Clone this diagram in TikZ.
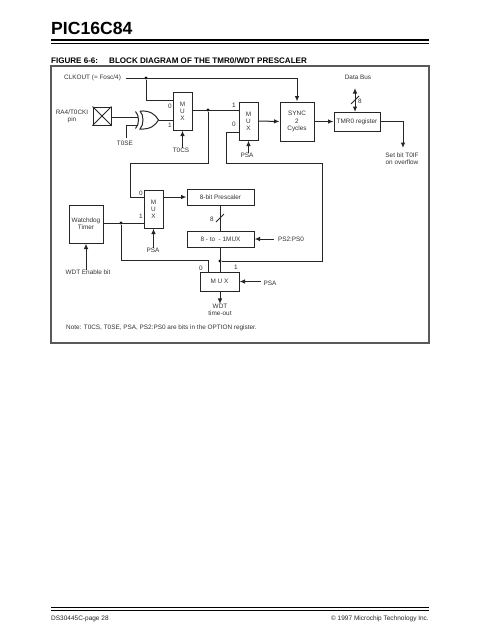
\documentclass[tikz,border=0pt]{standalone}
\usepackage{fontspec}
\setmainfont{Liberation Sans}
\usetikzlibrary{arrows.meta}
\begin{document}
\begin{tikzpicture}[
    x=1pt, y=-1pt,
    lbl/.style={inner sep=0pt, font=\fontsize{6.4}{7.2}\selectfont, align=center, text=black!80},
    blk/.style={rectangle, draw=black!85, line width=1pt, fill=white, inner sep=0pt, font=\fontsize{6.4}{7.2}\selectfont, align=center, text=black!80},
    wire/.style={draw=black!85, line width=1pt},
    arr/.style={wire, -{Latex[length=5.5pt,width=4.5pt]}},
    junc/.style={circle, fill=black, inner sep=0pt, minimum size=3.4pt},
    head/.style={inner sep=0pt, font=\fontsize{8.05}{9}\bfseries\selectfont},
    foot/.style={inner sep=0pt, font=\fontsize{6.5}{8}\selectfont, text=black!85},
]
\useasboundingbox (0,0) rectangle (495,640);
\fill[white] (0,0) rectangle (495,640);
% page header and footer
\node[inner sep=0pt, anchor=west, font=\fontsize{17.6}{18}\bfseries\selectfont] (title) at (51,28) {PIC16C84};
\coordinate (ruleL) at (51,40.3);
\coordinate (ruleR) at (429,40.3);
\draw[line width=1.7pt] (ruleL) -- (ruleR);
\draw[line width=0.6pt] ([yshift=-2.8pt]ruleL) -- ([yshift=-2.8pt]ruleR);
\coordinate (footL) at (51,607.3);
\coordinate (footR) at (429,607.3);
\draw[line width=0.6pt] (footL) -- (footR);
\draw[line width=1.7pt] ([yshift=-3.2pt]footL) -- ([yshift=-3.2pt]footR);
\node[head, anchor=west] (fignum) at (51,60.5) {FIGURE 6-6:};
\node[head, anchor=west] (figtitle) at (109,60.5) {BLOCK DIAGRAM OF THE TMR0/WDT PRESCALER};
\node[foot, anchor=west] (docnum) at (51,619) {DS30445C-page 28};
\node[foot, anchor=east] (copyr) at (429,619) {\textcopyright{} 1997 Microchip Technology Inc.};
\draw[black!65, line width=1.1pt] (51,66) rectangle (429,343);
% blocks
\node[blk, minimum width=19pt, minimum height=38pt] (muxa) at (182.5,111) {M\\U\\X};
\node[blk, minimum width=19pt, minimum height=38pt] (muxb) at (248.5,121) {M\\U\\X};
\node[blk, minimum width=19pt, minimum height=38pt] (muxc) at (153.5,209) {M\\U\\X};
\node[blk, minimum width=34pt, minimum height=39pt] (sync) at (297,121.5) {SYNC\\2\\Cycles};
\node[blk, minimum width=46pt, minimum height=19pt] (tmr) at (357,121.5) {TMR0 register};
\node[blk, minimum width=34pt, minimum height=38pt] (wdt) at (86,224) {Watchdog\\Timer};
\node[blk, minimum width=67pt, minimum height=16pt] (presc) at (220.5,197) {8-bit Prescaler};
\node[blk, minimum width=67pt, minimum height=16pt] (selmux) at (220.5,239) {8 - to \ - 1MUX};
\node[blk, minimum width=39pt, minimum height=19pt] (muxd) at (219.5,281.5) {M U X};
\node[blk, minimum width=18pt, minimum height=18pt] (pin) at (102,116) {};
\draw[wire] (pin.north west) -- (pin.south east);
\draw[wire] (pin.north east) -- (pin.south west);
% labels
\node[lbl, anchor=west] (clkout) at (64,78) {CLKOUT (= Fosc/4)};
\node[lbl] (ra) at (72,116.5) {RA4/T0CKI\\pin};
\node[lbl] (tose) at (125,143.5) {T0SE};
\node[lbl] (tocs) at (181,150.5) {T0CS};
\node[lbl] (psab) at (247,155.5) {PSA};
\node[lbl] (psac) at (153,250) {PSA};
\node[lbl, anchor=west] (psad) at (263.5,283) {PSA};
\node[lbl] (bus) at (358,77.5) {Data Bus};
\node[lbl] (ovf) at (402,158.5) {Set bit T0IF\\on overflow};
\node[lbl] (wen) at (88,272.5) {WDT Enable bit};
\node[lbl] (pss) at (291,239) {PS2:PS0};
\node[lbl] (timeout) at (220,310) {WDT\\time-out};
\node[lbl, anchor=west] (note) at (66,328) {Note: T0CS, T0SE, PSA, PS2:PS0 are bits in the OPTION register.};
\node[lbl] (a0) at (170,106) {0};
\node[lbl] (a1) at (170,125) {1};
\node[lbl] (b1) at (234,105) {1};
\node[lbl] (b0) at (234,124.5) {0};
\node[lbl] (c0) at (141,193.5) {0};
\node[lbl] (c1) at (141,216.5) {1};
\node[lbl] (d0) at (201,268) {0};
\node[lbl] (d1) at (236,267) {1};
\node[lbl] (bw) at (360,101) {8};
\node[lbl] (pw) at (212,219.5) {8};
% junctions
\node[junc] (jclk) at (146,78) {};
\node[junc] (jout) at (208,110) {};
\node[junc] (jwdt) at (121,223) {};
\node[junc] (jsel) at (220,261) {};
% xor gate
\coordinate (xa) at (140,111);
\coordinate (xb) at (140,129);
\coordinate (xtip) at (158.5,120);
\draw[wire, fill=white] (xa) .. controls (150,110.5) and (155,114) .. (xtip) .. controls (155,126) and (150,129.5) .. (xb) .. controls (144,125) and (144,115) .. (xa);
\draw[wire] (135.5,111.5) .. controls (139.5,115) and (139.5,125) .. (135.5,128.5);
\coordinate (xin) at (137.5,117);
\coordinate (xse) at (137.5,125);
\coordinate (xout) at (173,120);
% connectors
\coordinate (clkstart) at (126,78);
\coordinate (tostart) at (126,138);
\draw[arr] (clkstart) -- (297,78) -- (sync.north);
\draw[wire] (jclk) |- (173,100);
\draw[wire] (pin.east |- xin) -- (xin);
\draw[wire] (tostart) |- (xse);
\draw[wire] (xtip) -- (xout);
\draw[wire] (muxa.east |- jout) -- (239,110);
\draw[wire] (jout) -- (208,163) -- (130,163) |- (144,197);
\draw[arr] (muxb.east) -- (sync.west);
\draw[arr] (sync.east) -- (tmr.west);
\draw[arr] (tmr.east) -| (403,148);
\draw[{Latex[length=5.5pt,width=4.5pt]}-{Latex[length=5.5pt,width=4.5pt]}, wire] (355,88) -- (355,112);
\draw[wire] (351,104) -- (359,96);
\draw[arr] (psab.north -| muxb.south) -- (muxb.south);
\draw[arr] (tocs.north -| muxa.south) -- (muxa.south);
\draw[arr] (psac.north -| muxc.south) -- (muxc.south);
\draw[arr] (muxc.east |- presc.west) -- (presc.west);
\draw[wire] (wdt.east |- jwdt) -- (144,223);
\draw[wire] (jwdt) |- (208,260) -- (208,272);
\draw[arr] (wen.north -| wdt.south) -- (wdt.south);
\draw[wire] (presc.south -| jsel) -- (selmux.north -| jsel);
\draw[wire] (216,222) -- (224,214);
\draw[wire] (selmux.south -| jsel) -- (muxd.north -| jsel);
\draw[wire] (jsel) -- (322,261) -- (322,163) -- (226,163) |- (239,132);
\draw[arr] ([xshift=-4pt]pss.west) -- (selmux.east);
\draw[arr] ([xshift=-2.5pt]psad.west |- muxd.east) -- (muxd.east);
\draw[arr] (muxd.south -| jsel) -- (timeout.north -| jsel);
\end{tikzpicture}
\end{document}
